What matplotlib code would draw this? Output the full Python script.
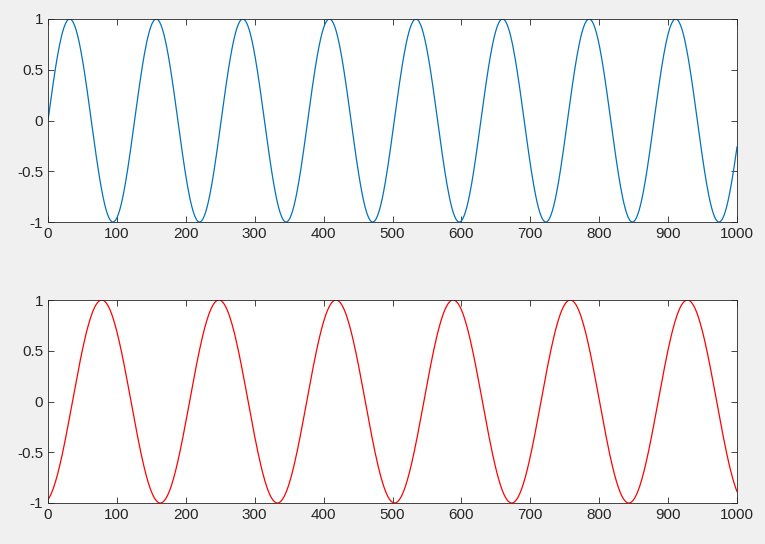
import numpy as np
import matplotlib
matplotlib.use("Agg")
import matplotlib.pyplot as plt

plt.rcParams['font.family'] = ['Liberation Sans', 'DejaVu Sans']
x = np.arange(0, 1001)
period_top = 125.66
period_bottom = 170.0
phase_bottom = 7.0
y_top = np.sin(2 * np.pi * x / period_top)
y_bottom = -np.cos(2 * np.pi * (x + phase_bottom) / period_bottom)
xticks = list(range(0, 1001, 100))
yticks = [-1, -0.5, 0, 0.5, 1]
yticklabels = ['-1', '-0.5', '0', '0.5', '1']

W, H = 765, 544
fig = plt.figure(figsize=(W / 100, H / 100), dpi=100, facecolor='#f0f0f0')
boxes = [(48, 19, 737, 222), (48, 300, 737, 503)]
for (l, t, r, b), y, c in zip(boxes, [y_top, y_bottom], ['#0072BD', '#ff0000']):
    ax = fig.add_axes([l / W, 1 - b / H, (r - l) / W, (b - t) / H])
    ax.plot(x, y, color=c, lw=0.9)
    ax.set_xlim(0, 1000)
    ax.set_ylim(-1, 1)
    ax.set_xticks(xticks)
    ax.set_yticks(yticks)
    ax.set_yticklabels(yticklabels)
    ax.tick_params(direction='in', top=True, right=True, labelsize=11, length=4, width=0.6, color='#262626', labelcolor='#262626')
    for s in ax.spines.values():
        s.set_linewidth(0.6)
        s.set_color('#262626')
fig.savefig('out.png', dpi=100, facecolor=fig.get_facecolor())
